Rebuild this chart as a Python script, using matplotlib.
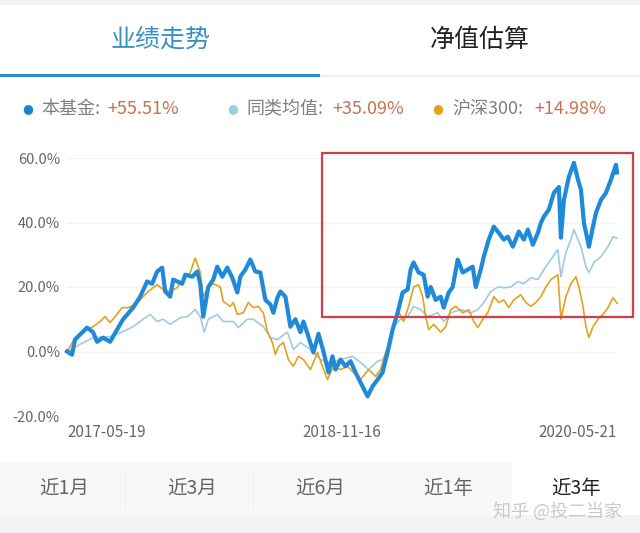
import matplotlib
matplotlib.use("Agg")
import matplotlib.pyplot as plt
from matplotlib.patches import Rectangle

plt.rcParams['font.family'] = ['Noto Sans CJK SC', 'DejaVu Sans']

# days since 2017-05-19, cumulative return in %
fund_days = [0, 10, 16, 40, 52, 60, 72, 86, 100, 112,
             132, 146, 160, 170, 180, 190, 196, 206, 212, 230,
             236, 250, 260, 266, 272, 282, 292, 300, 310, 320,
             330, 340, 346, 356, 366, 376, 386, 396, 406, 412,
             420, 426, 436, 446, 456, 466, 472, 482, 492, 502,
             512, 522, 530, 536, 546, 556, 566, 576, 586, 600,
             610, 620, 630, 640, 650, 660, 670, 680, 686, 692,
             702, 712, 720, 726, 736, 746, 752, 762, 770, 780,
             790, 800, 810, 816, 826, 832, 842, 852, 862, 872,
             880, 890, 902, 912, 920, 930, 940, 946, 952, 962,
             972, 982, 986, 992, 1002, 1012, 1020, 1026, 1032, 1042,
             1050, 1056, 1066, 1076, 1086, 1096, 1098]
fund_vals = [0, -1, 3.7, 7.4, 6, 3, 4.3, 3, 6.8, 10,
             13.6, 17, 21.7, 21, 24.8, 26, 18.6, 17, 22.3, 21,
             23.8, 23.2, 24.8, 21, 10.8, 20, 22.3, 26.3, 23.2, 26,
             22.9, 18.3, 23.2, 25.4, 28.5, 24.8, 24.5, 16, 14.6, 12,
             16.7, 18.6, 17, 7.7, 10, 6, 9.3, 4.6, -0.3, 5.5,
             0, -6.5, -1.5, -5.6, -2.5, -4.6, -3, -6.5, -9.6, -13.9,
             -10.8, -8.7, -6.5, -0.3, 6.8, 12, 18.3, 19.2, 25.4, 27.6,
             24.5, 23.8, 17, 20, 16, 17, 13.6, 18.3, 20, 28.5,
             24.5, 25.4, 26.3, 20, 25.4, 29.4, 34.7, 38.7, 36.8, 34.7,
             35.6, 32.5, 37.2, 34.7, 37.8, 33.1, 36.8, 39.9, 41.8, 44,
             49.2, 51, 35.3, 47, 54.2, 58.5, 53.3, 50.2, 39.9, 32.5,
             38.7, 43, 47, 49.2, 53.3, 57.9, 55.51]

peer_days = [0, 26, 52, 86, 112, 132, 152, 166, 180, 192,
             206, 226, 240, 256, 266, 274, 282, 300, 312, 332,
             342, 360, 372, 392, 406, 420, 440, 452, 466, 486,
             506, 526, 546, 570, 586, 602, 620, 630, 640, 652,
             666, 680, 692, 706, 720, 740, 752, 766, 786, 806,
             820, 832, 846, 860, 872, 886, 900, 912, 926, 940,
             952, 966, 980, 986, 996, 1006, 1012, 1020, 1026, 1036,
             1042, 1052, 1066, 1080, 1090, 1098]
peer_vals = [0, 2.2, 4.3, 4.6, 6.2, 7.7, 10, 11.5, 9.3, 10,
             8.4, 10.5, 10.8, 13, 10.8, 6, 10, 11.5, 9.3, 9.3,
             7.4, 10, 10, 7.7, 4.3, 3.7, 6, 0.6, 2.8, 0.6,
             -2.5, -3.4, -2.5, -1.5, -3.4, -5.6, -3, -2.5, -0.3, 7.7,
             10, 10.8, 14, 13, 10.8, 12, 9.3, 12, 13, 12,
             13, 15.2, 18.6, 20, 19.8, 20, 21.7, 21, 22.9, 22.3,
             25.4, 28.5, 31.6, 23.2, 30.7, 34.7, 37.8, 34.7, 32.5, 26.3,
             24.5, 27.6, 29.4, 32.5, 35.6, 35.09]

hs300_days = [0, 10, 22, 40, 52, 66, 76, 86, 96, 110,
              122, 136, 146, 160, 172, 180, 192, 206, 220, 232,
              246, 256, 266, 272, 282, 292, 306, 312, 326, 332,
              340, 352, 362, 372, 382, 392, 400, 410, 416, 422,
              432, 442, 452, 462, 472, 486, 500, 510, 520, 532,
              546, 560, 572, 586, 602, 616, 626, 636, 650, 660,
              672, 682, 692, 702, 710, 716, 722, 732, 746, 756,
              766, 776, 790, 802, 812, 820, 830, 840, 852, 862,
              872, 882, 892, 906, 916, 926, 936, 946, 956, 966,
              980, 986, 996, 1006, 1016, 1022, 1030, 1036, 1042, 1050,
              1060, 1070, 1080, 1090, 1098]
hs300_vals = [0, 2.6, 4.6, 6.8, 7.7, 9.3, 10.8, 9, 10.8, 13.6,
              13.6, 14.6, 16, 18.3, 19.8, 20.7, 19.2, 18.6, 19.8, 22.3,
              24.5, 29, 24.5, 17, 20, 21, 20, 15.5, 14, 15.2,
              11.5, 12, 15.2, 13.6, 14, 12, 6.2, 2.8, -0.9, 1.5,
              2.8, -2.5, -4.6, -1.5, -2.5, -5.6, -0.3, -4.6, -8.7, -4.6,
              -5.6, -4.6, -6.5, -8.7, -5.6, -7.7, -5.6, -0.3, 6, 13,
              9.3, 14, 20, 20.7, 17, 10.8, 6.8, 8.4, 6, 7.7,
              13, 14, 12, 13, 9.3, 7.4, 10, 12, 17, 15.2,
              16, 13.6, 16, 17.6, 15.2, 14, 15.2, 17, 20, 22.3,
              23.8, 10, 17, 21, 23.2, 20, 14, 7.7, 4.3, 7.7,
              10, 11.5, 13.6, 16.7, 14.98]

yticks = [-20, 0, 20, 40, 60]
date_labels = ['2017-05-19', '2018-11-16', '2020-05-21']
tabs = ['业绩走势', '净值估算']
periods = ['近1月', '近3月', '近6月', '近1年', '近3年']
legend_names = ['本基金:', '同类均值:', '沪深300:']
legend_values = ['+55.51%', '+35.09%', '+14.98%']
legend_colors = ['#1f82d0', '#9fcbe0', '#e2a21e']

W, H = 640, 533


def px(x, y):
    return x / W, 1 - y / H


fig = plt.figure(figsize=(6.4, 5.33), dpi=100)
fig.patch.set_facecolor('white')

# top strip + tabs
fig.add_artist(Rectangle(px(0, 5), 1, 5 / H, transform=fig.transFigure, color='#f3f3f3', lw=0))
fig.text(*px(160, 40), tabs[0], color='#3a8fc2', fontsize=18, ha='center', va='center')
fig.text(*px(480, 40), tabs[1], color='#222222', fontsize=18, ha='center', va='center')
fig.add_artist(Rectangle(px(320, 77), 0.5, 2 / H, transform=fig.transFigure, color='#eeeeee', lw=0))
fig.add_artist(Rectangle(px(0, 77), 0.5, 3 / H, transform=fig.transFigure, color='#2e8dd6', lw=0))

# legend row
dot_x = [28, 233, 438]
name_x = [41, 246, 452]
val_x = [107, 332, 534]
for i in range(3):
    fig.text(*px(dot_x[i], 109), '●', color=legend_colors[i], fontsize=9, ha='center', va='center',
             family='DejaVu Sans')
    fig.text(*px(name_x[i], 109), legend_names[i], color='#808080', fontsize=13, ha='left', va='center')
    fig.text(*px(val_x[i], 109), legend_values[i], color='#c8714f', fontsize=13, ha='left', va='center')

# chart
ax = fig.add_axes([67 / W, 117 / H, 550 / W, 258 / H])
ax.set_xlim(0, 1098)
ax.set_ylim(-20, 60)
for t in yticks:
    ax.axhline(t, color='#f2f2f2', lw=1, zorder=0)
ax.plot(peer_days, peer_vals, color=legend_colors[1], lw=1.2, zorder=2, clip_on=False)
ax.plot(hs300_days, hs300_vals, color=legend_colors[2], lw=1.2, zorder=3, clip_on=False)
ax.plot(fund_days, fund_vals, color='#1f8ad9', lw=3, zorder=4, clip_on=False,
        solid_joinstyle='round')
for s in ax.spines.values():
    s.set_visible(False)
ax.set_xticks([])
ax.set_yticks(yticks)
ax.set_yticklabels([f'{t:.1f}%' for t in yticks], color='#666666', fontsize=10.5)
ax.tick_params(axis='y', length=0, pad=5)
ax.text(0, -0.065, date_labels[0], transform=ax.transAxes, ha='left', va='center', color='#666666', fontsize=11)
ax.text(0.5, -0.065, date_labels[1], transform=ax.transAxes, ha='center', va='center', color='#666666', fontsize=11)
ax.text(1, -0.065, date_labels[2], transform=ax.transAxes, ha='right', va='center', color='#666666', fontsize=11)
ax.add_patch(Rectangle((509, 10.7), 620, 50.8, fill=False, edgecolor='#d43c48', lw=1.6,
                       clip_on=False, zorder=5))

# bottom period bar
fig.add_artist(Rectangle(px(0, 515), 512 / W, 53 / H, transform=fig.transFigure, color='#f8f8fa', lw=0))
fig.add_artist(Rectangle(px(0, 533), 1, 18 / H, transform=fig.transFigure, color='#f3f3f3', lw=0))
for i, p in enumerate(periods):
    c = '#222222' if i == 4 else '#666666'
    fig.text(*px(64 + 128 * i, 488), p, color=c, fontsize=14, ha='center', va='center')
for xd in [125, 253]:
    fig.add_artist(Rectangle(px(xd, 510), 1 / W, 40 / H, transform=fig.transFigure, color='#eeeeee', lw=0))
fig.text(*px(622, 511), '知乎 @投二当家', color='#c4c4c4', fontsize=13, ha='right', va='center', alpha=0.9)

fig.savefig('out.png', dpi=100)
